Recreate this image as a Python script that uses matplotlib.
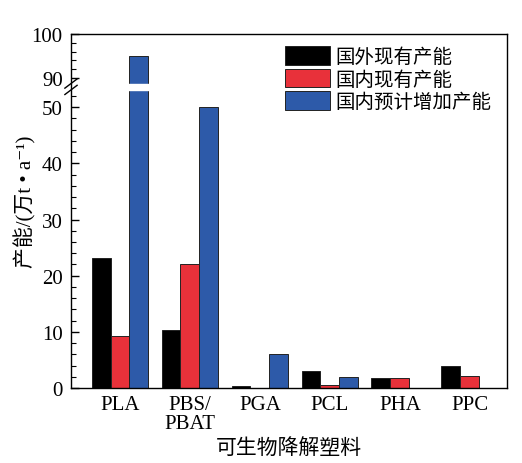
import matplotlib.pyplot as plt
import numpy as np

plt.rcParams['font.family'] = ['Liberation Serif', 'Noto Sans CJK SC', 'DejaVu Sans']

categories = ['PLA', 'PBS/\nPBAT', 'PGA', 'PCL', 'PHA', 'PPC']
abroad = [23.1, 10.4, 0.4, 3.0, 1.7, 4.0]
domestic = [9.2, 22.0, 0.0, 0.5, 1.7, 2.2]
planned = [95.0, 50.0, 6.0, 2.0, 0.0, 0.0]
series_names = ['国外现有产能', '国内现有产能', '国内预计增加产能']
colors = ['#000000', '#e8313a', '#2d5aa9']

# broken y axis: 0-53 stretched, 88.6-100 compressed, gap squeezed in between
brk_v = np.array([0.0, 53.0, 88.6, 100.0])
brk_p = np.array([0.0, 296.8, 302.8, 353.0])


def fwd(v):
    v = np.asarray(v, dtype=float)
    out = np.interp(v, brk_v, brk_p)
    out = np.where(v < 0, v * 5.6, out)
    out = np.where(v > 100, 353.0 + (v - 100) * 4.4, out)
    return out


def inv(p):
    p = np.asarray(p, dtype=float)
    out = np.interp(p, brk_p, brk_v)
    out = np.where(p < 0, p / 5.6, out)
    out = np.where(p > 353.0, 100 + (p - 353.0) / 4.4, out)
    return out


fig = plt.figure(figsize=(5.22, 4.64), dpi=100)
ax = fig.add_axes([0.136, 0.1616, 0.835, 0.763])
ax.set_yscale('function', functions=(fwd, inv))

x = np.arange(len(categories))
w = 0.27
for i, (vals, c, name) in enumerate(zip([abroad, domestic, planned], colors, series_names)):
    ax.bar(x + (i - 1) * w, vals, w, color=c, edgecolor='#222222', linewidth=0.7,
           label=name, zorder=1)

# white band through the gap of the break
ax.axhspan(53.0, 88.6, color='white', zorder=1.5)

ax.set_xlim(-0.7, 5.53)
ax.set_ylim(0, 100)

ax.set_yticks([0, 10, 20, 30, 40, 50, 90, 100])
ax.set_yticks(list(np.arange(2, 53, 2)) + [92, 94, 96, 98], minor=True)
ax.tick_params(axis='y', which='major', direction='in', length=6, width=1, labelsize=15, pad=6)
ax.tick_params(axis='y', which='minor', direction='in', length=3.5, width=0.8)
ax.set_xticks(x)
ax.set_xticklabels(categories, fontsize=15, linespacing=1.0)
ax.tick_params(axis='x', length=0, pad=5)

for s in ax.spines.values():
    s.set_linewidth(1.0)

# break marks on the left spine
for yc in [0.842, 0.86]:
    ax.plot([-0.014, 0.014], [yc - 0.013, yc + 0.013], color='black', lw=1.0,
            transform=ax.transAxes, clip_on=False, zorder=5)

ax.set_ylabel('产能/(万t • a⁻¹)', fontsize=15)
ax.yaxis.set_label_coords(-0.08, 0.53)
ax.set_xlabel('可生物降解塑料', fontsize=15, family=['Noto Sans CJK SC', 'DejaVu Sans'])
ax.xaxis.set_label_coords(0.5, -0.135)

leg = ax.legend(loc='upper left', bbox_to_anchor=(0.491, 0.966), frameon=False,
                borderaxespad=0, borderpad=0, handlelength=2.3, handleheight=1.1,
                labelspacing=0.08, handletextpad=0.3,
                prop={'family': ['Noto Sans CJK SC', 'DejaVu Sans'], 'size': 14})

fig.savefig('out.png', dpi=100)
